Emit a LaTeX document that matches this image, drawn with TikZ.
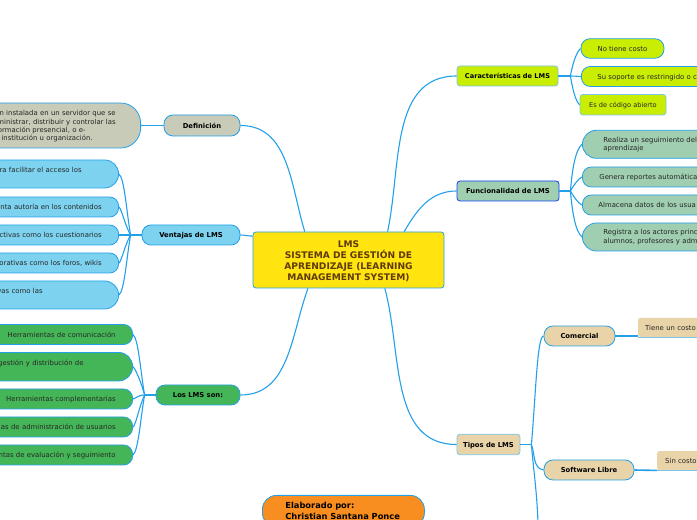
\documentclass[tikz,border=0pt]{standalone}
\usepackage{xcolor}
\usepackage{fontspec}
\setmainfont{DejaVu Sans}
\usetikzlibrary{calc}
\usetikzlibrary{positioning}
\definecolor{wire}{HTML}{22A0EA}
\definecolor{wirelt}{HTML}{7CC4E8}
\definecolor{cmain}{HTML}{FFE40F}
\definecolor{cbrown}{HTML}{5F3A0A}
\definecolor{cdefn}{HTML}{C8CBB8}
\definecolor{cvent}{HTML}{7DD3EF}
\definecolor{cson}{HTML}{45B658}
\definecolor{ccara}{HTML}{C9EE04}
\definecolor{cfunc}{HTML}{9FCEB0}
\definecolor{ctipo}{HTML}{E8D4A8}
\definecolor{celab}{HTML}{F98E20}
\newcommand{\gap}[1]{\rule{#1pt}{0pt}}
\tikzstyle{small} = [font=\fontsize{6.9}{8.2}\selectfont, text=black!85]
\tikzstyle{head} = [font=\bfseries\fontsize{6.8}{8.2}\selectfont, text=black]
\tikzstyle{shell} = [draw=wire, line width=0.8, inner sep=0, minimum height=20]
\tikzstyle{oneline} = [text height=6, text depth=0]
\tikzstyle{pill} = [shell, oneline, rounded corners=9]
\tikzstyle{big} = [shell, rounded corners=14]
\tikzstyle{lbox} = [small, align=right, inner xsep=17, text width=170]
\tikzstyle{rbox} = [small, align=left, text width=150]
\tikzstyle{link} = [draw=wire, line width=1.1]
\tikzstyle{trunk} = [draw=wire, line width=1.6]
\tikzstyle{far} = [draw=wirelt, line width=0.8]

\begin{document}
\begin{tikzpicture}[x=1pt, y=1pt]
\useasboundingbox (0, 0) rectangle (697, 520);
% centre
\node [draw=wire, line width=0.8, rounded corners=3, fill=cmain, minimum width=191, minimum height=56, inner sep=0, align=center, text=cbrown, font=\bfseries\fontsize{9.1}{11}\selectfont] (main) at (348.5, 260) {\rule{0pt}{9pt}LMS\\SISTEMA DE GESTIÓN DE\\APRENDIZAJE (LEARNING\\MANAGEMENT SYSTEM)};
\node [big, fill=celab, anchor=north west, text width=116, inner xsep=23, minimum height=31.5, align=left, font=\bfseries\fontsize{8.3}{10.7}\selectfont] (elab) at (262, 25) {Elaborado por:\\Christian Santana Ponce};
% left side
\node [pill, head, fill=cdefn, minimum width=76, minimum height=21] (defn) at (202, 394.5) {Definición};
\node [big, lbox, fill=cdefn, inner xsep=25, text width=150, minimum height=45, anchor=east, rounded corners=20] (defn1) at (141, 394.5) {\rule{0pt}{7pt}n instalada en un servidor que se\\ministrar, distribuir y controlar las\\formación presencial, o e-\gap{30}\\institución u organización.\gap{23}};

\node [pill, head, fill=cvent, minimum width=98] (vent) at (191, 285) {Ventajas de LMS};
\node [big, lbox, fill=cvent, minimum height=28, anchor=east] (vent1) at (119, 346) {ra facilitar el acceso los\gap{20}\\\mbox{}};
\node [pill, lbox, fill=cvent, anchor=east] (vent2) at (119, 313) {nta autoría en los contenidos};
\node [pill, lbox, fill=cvent, anchor=east] (vent3) at (119, 285) {ctivas como los cuestionarios};
\node [pill, lbox, fill=cvent, anchor=east] (vent4) at (119, 257) {orativas como los foros, wikis};
\node [big, lbox, fill=cvent, minimum height=28, anchor=east] (vent5) at (119, 225) {vas como las\gap{59}\\\mbox{}};

\node [pill, head, fill=cson, minimum width=84] (son) at (198, 125) {Los LMS son:};
\node [pill, lbox, fill=cson, anchor=east] (son1) at (133, 185.5) {Herramientas de comunicación};
\node [big, lbox, fill=cson, minimum height=28.5, anchor=east] (son2) at (133, 153.3) {gestión y distribución de\gap{32}\\\mbox{}};
\node [pill, lbox, fill=cson, anchor=east] (son3) at (133, 121) {Herramientas complementarias};
\node [pill, lbox, fill=cson, anchor=east] (son4) at (133, 93) {as de administración de usuarios};
\node [pill, lbox, fill=cson, anchor=east] (son5) at (133, 65) {ntas de evaluación y seguimiento};
% right side
\node [pill, head, draw=wirelt, fill=ccara, rounded corners=3, minimum width=101, font=\bfseries\fontsize{6.6}{8.2}\selectfont] (cara) at (507.5, 444) {Características de LMS};
\node [pill, small, fill=ccara, minimum width=83, minimum height=19.5] (cara1) at (622.5, 471.5) {No tiene costo};
\node [pill, rbox, fill=ccara, anchor=west, inner xsep=16] (cara2) at (581, 443.5) {Su soporte es restringido o c};
\node [pill, small, draw=wirelt, fill=ccara, rounded corners=3, minimum width=86, minimum height=20.5, font=\fontsize{6.6}{8.2}\selectfont] (cara3) at (623, 415.3) {Es de código abierto};

\node [pill, head, draw=blue!60!wire, fill=cfunc, rounded corners=3, minimum width=102] (func) at (508, 329) {Funcionalidad de LMS};
\node [big, rbox, fill=cfunc, minimum height=28, anchor=west, inner xsep=21] (func1) at (582, 375.7) {Realiza un seguimiento del\\aprendizaje};
\node [pill, rbox, fill=cfunc, anchor=west, inner xsep=17] (func2) at (582, 343) {Genera reportes automática};
\node [pill, rbox, fill=cfunc, anchor=west, inner xsep=16] (func3) at (582, 315) {Almacena datos de los usua};
\node [big, rbox, fill=cfunc, minimum height=28, anchor=west, inner xsep=21] (func4) at (582, 283) {Registra a los actores princ\\alumnos, profesores y adm};

\node [pill, head, draw=wirelt, fill=ctipo, rounded corners=3, minimum width=63, minimum height=20.5] (tipo) at (488.5, 75.5) {Tipos de LMS};
\node [pill, head, fill=ctipo, minimum width=71] (comr) at (579.5, 184) {Comercial};
\node [pill, head, fill=ctipo, minimum width=90] (soft) at (589, 50) {Software Libre};
\node [rbox, oneline, fill=ctipo, rounded corners=2, minimum height=19, inner ysep=0, anchor=west, inner xsep=7] (comr1) at (638, 192.5) {Tiene un costo};
\node [rbox, oneline, fill=ctipo, rounded corners=2, minimum height=19, inner ysep=0, anchor=west, inner xsep=8] (soft1) at (657, 59.25) {Sin costo};
\coordinate (tipo3) at (538, -3);
% from the centre
\draw [link] (main.147) to [out=107, in=0] (defn.east);
\draw [link] (main.166) to [out=180, in=0] (vent.east);
\draw [link] (main.215) to [out=250, in=0] (son.east);
\draw [link] (main.36) to [out=78, in=180] (cara.west);
\draw [link] (main.27) to [out=60, in=180] (func.west);
\draw [link] (main.322.5) to [out=-75, in=180] (tipo.west);
% branches
\draw [trunk] (defn.west) to (defn1.east);
\coordinate (ventj) at ($(vent.west)+(-11, 0)$);
\coordinate (sonj) at ($(son.west)+(-11, 0)$);
\coordinate (caraj) at ($(cara.east)+(12, 0)$);
\coordinate (funcj) at ($(func.east)+(11, 0)$);
\coordinate (tipoj) at ($(tipo.east)+(11, 0)$);
\draw [trunk] (vent.west) to (ventj);
\draw [trunk] (son.west) to (sonj);
\draw [trunk] (cara.east) to (caraj);
\draw [trunk] (func.east) to (funcj);
\draw [trunk] (tipo.east) to (tipoj);
\foreach \n/\o/\i in {1/100/-40, 2/120/-40, 3/180/0, 4/-120/40, 5/-100/40} {
  \draw [link] (ventj) to [out=\o, in=\i, in looseness=0.3] (vent\n.east);
}
\foreach \n/\o/\i in {1/100/-40, 2/105/-40, 3/170/-10, 4/-115/40, 5/-100/40} {
  \draw [link] (sonj) to [out=\o, in=\i, in looseness=0.3] (son\n.east);
}
\foreach \n/\o/\i in {1/80/220, 2/0/180, 3/-80/140} {
  \draw [link] (caraj) to [out=\o, in=\i, in looseness=0.5] (cara\n.west);
}
\foreach \n/\o/\i in {1/85/220, 2/60/200, 3/-60/160, 4/-85/140} {
  \draw [link] (funcj) to [out=\o, in=\i, in looseness=0.5] (func\n.west);
}
\draw [link] (tipoj) to [out=85, in=180, out looseness=1.2, in looseness=0.15] (comr.west);
\draw [link] (tipoj) to [out=-70, in=170] (soft.west);
\draw [link] (tipoj) to [out=-85, in=92] (tipo3);
\draw [trunk] (comr.east) to (comr.east -| comr1.west);
\draw [trunk] (soft.east) to (soft1.south west);
\draw [far] (comr1.south west) to (comr1.south east);
\draw [far] (soft1.south west) to (soft1.south east);
\end{tikzpicture}
\end{document}
